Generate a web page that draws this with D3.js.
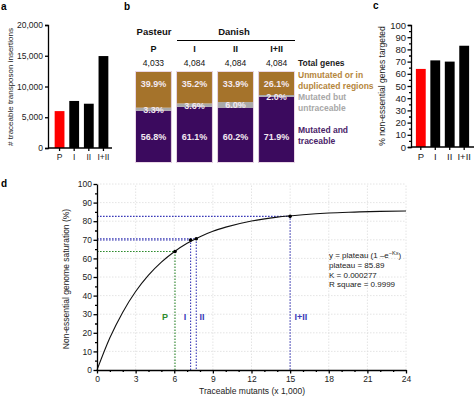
<!DOCTYPE html>
<meta charset="utf-8">
<style>
  body { margin: 0; background: #fff; }
  svg { font-family: "Liberation Sans", Arial, sans-serif; }
  .axis path, .axis line { stroke: #000; stroke-width: 1.3; }
  .axis text { font-size: 8.5px; fill: #222 !important; }
  .grid line { stroke: #ddd; stroke-dasharray: 1.5,1.5; stroke-width: 0.8; }
</style>
<body>
<script src="https://d3js.org/d3.v7.min.js"></script>
<script>

// ---- data ----
var strains = ["P", "I", "II", "I+II"];
var insertions = [6000, 7650, 7200, 14950];       // panel a
var totalGenes = ["4,033", "4,084", "4,084", "4,084"];
var unmutated = [39.9, 35.2, 33.9, 26.1];           // panel b
var untraceable = [3.3, 3.6, 6.0, 2.0];
var traceable = [56.8, 61.1, 60.2, 71.9];
var targeted = [64, 71, 70, 83];                    // panel c
var mutantsK = [6.06, 7.27, 7.71, 15.0];            // panel d points
var saturation = [63.7, 69.9, 70.6, 82.6];
var fitX = [0, 1, 2, 3, 4, 5, 6, 7, 8, 9, 10, 12, 14, 16, 18, 20, 22, 24];
var fitY = [0, 17.3, 31.1, 42.2, 51.0, 58.0, 63.6, 68.1, 71.7, 74.6, 76.8, 80.1, 82.2, 83.5, 84.4, 84.9, 85.3, 85.5];
var fitText = ["plateau = 85.89", "K = 0.000277", "R square = 0.9999"];

var brown = "#a5732b", grey = "#a9a9a9", purple = "#3b0a5e";

var svg = d3.select("body").append("svg")
    .attr("width", 474).attr("height", 398);

function letter(t, x, y) {
  svg.append("text").attr("x", x).attr("y", y).text(t)
     .style("font-size", "10px").style("font-weight", "bold");
}
letter("a", 1, 10); letter("b", 124, 10); letter("c", 373, 9); letter("d", 1, 187);

// ---- panel a ----
var xa = d3.scaleBand().domain(strains).range([51, 112]).paddingInner(0.33).paddingOuter(0.25);
var ya = d3.scaleLinear().domain([0, 20000]).range([148, 25]);

svg.append("g").selectAll("rect").data(strains).enter().append("rect")
   .attr("x", d => xa(d)).attr("width", xa.bandwidth())
   .attr("y", (d, i) => ya(insertions[i]))
   .attr("height", (d, i) => ya(0) - ya(insertions[i]))
   .attr("fill", (d, i) => i == 0 ? "#ff0000" : "#000");

svg.append("g").attr("class", "axis").attr("transform", "translate(48,0)")
   .call(d3.axisLeft(ya).tickValues([0, 5000, 10000, 15000, 20000]).tickFormat(d3.format(",")).tickSize(3).tickPadding(2));
svg.append("g").attr("class", "axis").attr("transform", "translate(0,148)")
   .call(d3.axisBottom(xa).tickSize(3).tickSizeOuter(0).tickPadding(3))
   .select(".domain").attr("d", "M48,0H112");

svg.append("text").attr("transform", "translate(13,87) rotate(-90)")
   .attr("text-anchor", "middle").style("font-size", "8px").attr("fill", "#222")
   .text("# traceable transposon insertions");

// ---- panel b ----
var xb = d3.scaleBand().domain(strains).range([135, 295]).paddingInner(0.1);
var yb = d3.scaleLinear().domain([0, 100]).range([163, 71]);
var rows = strains.map((s, i) => ({strain: s, traceable: traceable[i], untraceable: untraceable[i], unmutated: unmutated[i]}));
var keys = ["traceable", "untraceable", "unmutated"];
var colors = {traceable: purple, untraceable: grey, unmutated: brown};
var stacked = d3.stack().keys(keys)(rows);

svg.append("g").selectAll("g").data(stacked).enter().append("g")
   .attr("fill", d => colors[d.key])
   .selectAll("rect").data(d => d).enter().append("rect")
   .attr("x", d => xb(d.data.strain)).attr("width", xb.bandwidth())
   .attr("y", d => yb(Math.min(d[1], 100)))
   .attr("height", d => yb(d[0]) - yb(Math.min(d[1], 100)));

svg.append("g").selectAll("rect").data(strains).enter().append("rect")
   .attr("x", d => xb(d) + 0.5).attr("width", xb.bandwidth() - 1)
   .attr("y", yb(100) + 0.5).attr("height", yb(0) - yb(100) - 1)
   .attr("fill", "none").attr("stroke", "#ead7e6").attr("stroke-width", 1);

var lab = svg.append("g").style("font-size", "9px").style("font-weight", "bold")
   .attr("fill", "#f3e9f1").attr("text-anchor", "middle");
rows.forEach(function(r, i) {
  var cx = xb(r.strain) + xb.bandwidth() / 2;
  lab.append("text").attr("x", cx).attr("y", 86.5).text(r.unmutated.toFixed(1) + "%");
  var gm = yb(r.traceable + r.untraceable / 2);
  lab.append("text").attr("x", cx).attr("y", i == 3 ? 100 : gm + 3.5).text(r.untraceable.toFixed(1) + "%");
  lab.append("text").attr("x", cx).attr("y", 139.5).text(r.traceable.toFixed(1) + "%");
});

var head = svg.append("g").attr("text-anchor", "middle").attr("fill", "#111");
head.append("text").attr("x", 154).attr("y", 35).text("Pasteur")
    .style("font-size", "9.5px").style("font-weight", "bold");
head.append("text").attr("x", 234).attr("y", 35).text("Danish")
    .style("font-size", "9.5px").style("font-weight", "bold");
svg.append("line").attr("x1", 177).attr("x2", 295).attr("y1", 40.5).attr("y2", 40.5)
   .attr("stroke", "#000").attr("stroke-width", 1.2);
strains.forEach(function(s, i) {
  var cx = xb(s) + xb.bandwidth() / 2;
  head.append("text").attr("x", cx).attr("y", 51.5).text(s)
      .style("font-size", "9px").style("font-weight", "bold");
  head.append("text").attr("x", cx).attr("y", 66).text(totalGenes[i])
      .style("font-size", "8.5px");
});

var leg = svg.append("g").style("font-size", "8.5px").style("font-weight", "bold");
[["Total genes", 66, "#222"], ["Unmutated or in", 78, "#b5863c"], ["duplicated regions", 89, "#b5863c"],
 ["Mutated but", 100, "#a8a8a8"], ["untraceable", 111, "#a8a8a8"],
 ["Mutated and", 133, "#4b2469"], ["traceable", 144, "#4b2469"]].forEach(function(l) {
  leg.append("text").attr("x", 298).attr("y", l[1]).attr("fill", l[2]).text(l[0]);
});

// ---- panel c ----
var xc = d3.scaleBand().domain(strains).range([413, 472]).paddingInner(0.32).paddingOuter(0.2);
var yc = d3.scaleLinear().domain([0, 100]).range([147, 25]);

svg.append("g").selectAll("rect").data(strains).enter().append("rect")
   .attr("x", d => xc(d)).attr("width", xc.bandwidth())
   .attr("y", (d, i) => yc(targeted[i]))
   .attr("height", (d, i) => yc(0) - yc(targeted[i]))
   .attr("fill", (d, i) => i == 0 ? "#ff0000" : "#000");

var cy = svg.append("g").attr("class", "axis").attr("transform", "translate(411,0)")
   .call(d3.axisLeft(yc).tickValues(d3.range(0, 101, 5)).tickSize(3).tickPadding(2)
   .tickFormat(d => d % 10 == 0 ? d : ""));
cy.selectAll(".tick line").attr("x2", d => d % 10 == 0 ? -3.5 : -2);
cy.selectAll("text").style("font-size", "9.5px");
var cx = svg.append("g").attr("class", "axis").attr("transform", "translate(0,147)")
   .call(d3.axisBottom(xc).tickSize(3).tickSizeOuter(0).tickPadding(3));
cx.select(".domain").attr("d", "M411,0H474");
cx.selectAll("text").style("font-size", "9.5px");

svg.append("text").attr("transform", "translate(385,86) rotate(-90)")
   .attr("text-anchor", "middle").style("font-size", "8.5px").attr("fill", "#222")
   .text("% non-essential genes targeted");

// ---- panel d ----
var xd = d3.scaleLinear().domain([0, 24]).range([97, 406]);
var yd = d3.scaleLinear().domain([0, 100]).range([370, 184]);

var grid = svg.append("g").attr("class", "grid");
grid.selectAll(".gx").data(d3.range(3, 25, 3)).enter().append("line")
    .attr("x1", d => xd(d)).attr("x2", d => xd(d)).attr("y1", yd(0)).attr("y2", yd(100));
grid.selectAll(".gy").data(d3.range(10, 101, 10)).enter().append("line")
    .attr("x1", xd(0)).attr("x2", xd(24)).attr("y1", d => yd(d)).attr("y2", d => yd(d));

var pcol = ["#2e8b2e", "#3a3ab8", "#3a3ab8", "#3a3ab8"];
mutantsK.forEach(function(m, i) {
  svg.append("path")
     .attr("d", "M" + xd(0) + "," + yd(saturation[i]) + "H" + xd(m) + "V" + yd(0))
     .attr("fill", "none").attr("stroke", pcol[i]).attr("stroke-width", 1.1)
     .attr("stroke-dasharray", "1.6,1.4");
});

svg.append("path").datum(fitX.map((x, i) => [x, fitY[i]]))
   .attr("d", d3.line().x(d => xd(d[0])).y(d => yd(d[1])).curve(d3.curveMonotoneX))
   .attr("fill", "none").attr("stroke", "#111").attr("stroke-width", 1.1);

svg.append("g").selectAll("circle").data(mutantsK).enter().append("circle")
   .attr("cx", d => xd(d)).attr("cy", (d, i) => yd(saturation[i])).attr("r", 1.8).attr("fill", "#000");

var dx = svg.append("g").attr("class", "axis").attr("transform", "translate(0,370)")
   .call(d3.axisBottom(xd).tickValues(d3.range(0, 25, 1)).tickSize(3).tickSizeOuter(0).tickPadding(3)
   .tickFormat(d => d % 3 == 0 ? d : ""));
dx.selectAll(".tick line").attr("y2", d => d % 3 == 0 ? 3.5 : 2);
var dy = svg.append("g").attr("class", "axis").attr("transform", "translate(97,0)")
   .call(d3.axisLeft(yd).tickValues(d3.range(0, 101, 5)).tickSize(3).tickSizeOuter(0).tickPadding(2)
   .tickFormat(d => d % 10 == 0 ? d : ""));
dy.selectAll(".tick line").attr("x2", d => d % 10 == 0 ? -3.5 : -2);

svg.append("text").attr("x", 252).attr("y", 394).attr("text-anchor", "middle")
   .style("font-size", "8.5px").attr("fill", "#222").text("Traceable mutants (x 1,000)");
svg.append("text").attr("transform", "translate(69,279) rotate(-90)")
   .attr("text-anchor", "middle").style("font-size", "8.5px").attr("fill", "#222")
   .text("Non-essential genome saturation (%)");

var dl = svg.append("g").style("font-size", "9px").style("font-weight", "bold").attr("text-anchor", "middle");
dl.append("text").attr("x", 165).attr("y", 320).attr("fill", pcol[0]).text("P");
dl.append("text").attr("x", 185).attr("y", 320).attr("fill", pcol[1]).text("I");
dl.append("text").attr("x", 202).attr("y", 320).attr("fill", pcol[2]).text("II");
dl.append("text").attr("x", 301).attr("y", 320).attr("fill", pcol[3]).text("I+II");

var ft = svg.append("g").style("font-size", "8px").attr("fill", "#222");
var t0 = ft.append("text").attr("x", 329).attr("y", 258);
t0.append("tspan").text("y = plateau (1 \u2013e");
t0.append("tspan").attr("dy", -3).style("font-size", "5.5px").text("\u2212Kx");
t0.append("tspan").attr("dy", 3).text(")");
fitText.forEach(function(t, i) {
  ft.append("text").attr("x", 329).attr("y", 268 + i * 9.6).text(t);
});

</script>
</body>
